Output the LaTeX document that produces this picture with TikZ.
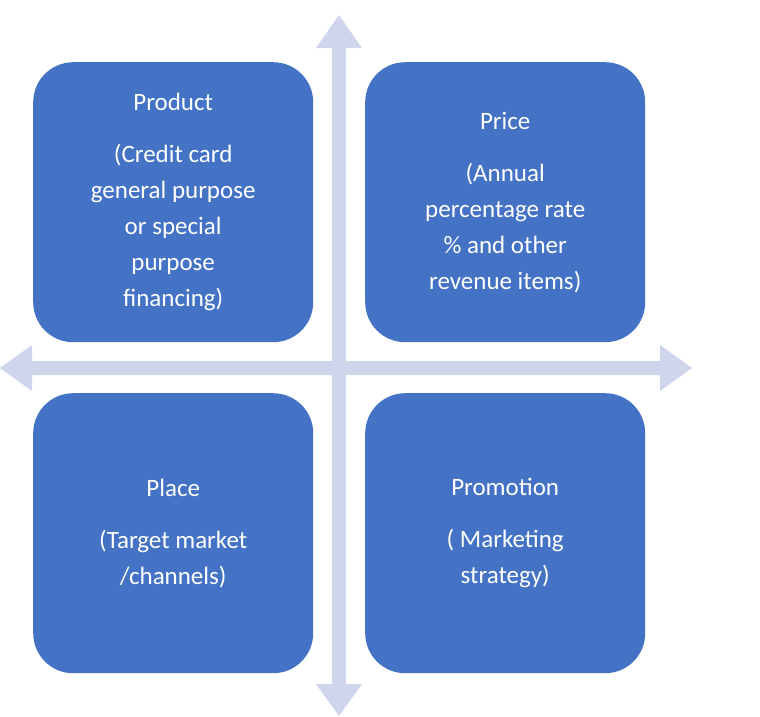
\documentclass[tikz,border=0pt]{standalone}
\usepackage{fontspec}
\setmainfont{Carlito}
\begin{document}
\begin{tikzpicture}[x=1pt,y=-1pt,
  quad/.style={fill=boxblue,rounded corners=40pt,minimum width=280pt,minimum height=280pt,anchor=north west,text=white,align=center,font=\fontsize{25}{36}\selectfont},
  axis/.style={fill=axiscol}]
\definecolor{boxblue}{HTML}{4472C4}
\definecolor{axiscol}{HTML}{CFD5EA}
\useasboundingbox (0,0) rectangle (760,716);
\fill[axiscol] (339,15) -- (362,48) -- (346,48) -- (346,684) -- (362,684) -- (339,716) -- (316,684) -- (332,684) -- (332,48) -- (316,48) -- cycle;
\fill[axiscol] (0,368) -- (32,345) -- (32,361) -- (660,361) -- (660,345) -- (692,368) -- (660,391) -- (660,375) -- (32,375) -- (32,391) -- cycle;
\node[quad] (product) at (33,62) {Product\\[16pt](Credit card\\general purpose\\or special\\purpose\\financing)};
\node[quad] (price) at (365,62) {Price\\[16pt](Annual\\percentage rate\\\% and other\\revenue items)};
\node[quad] (place) at (33,393) {Place\\[16pt](Target market\\/channels)};
\node[quad] (promotion) at (365,393) {Promotion\\[16pt]( Marketing\\strategy)};
\end{tikzpicture}
\end{document}
